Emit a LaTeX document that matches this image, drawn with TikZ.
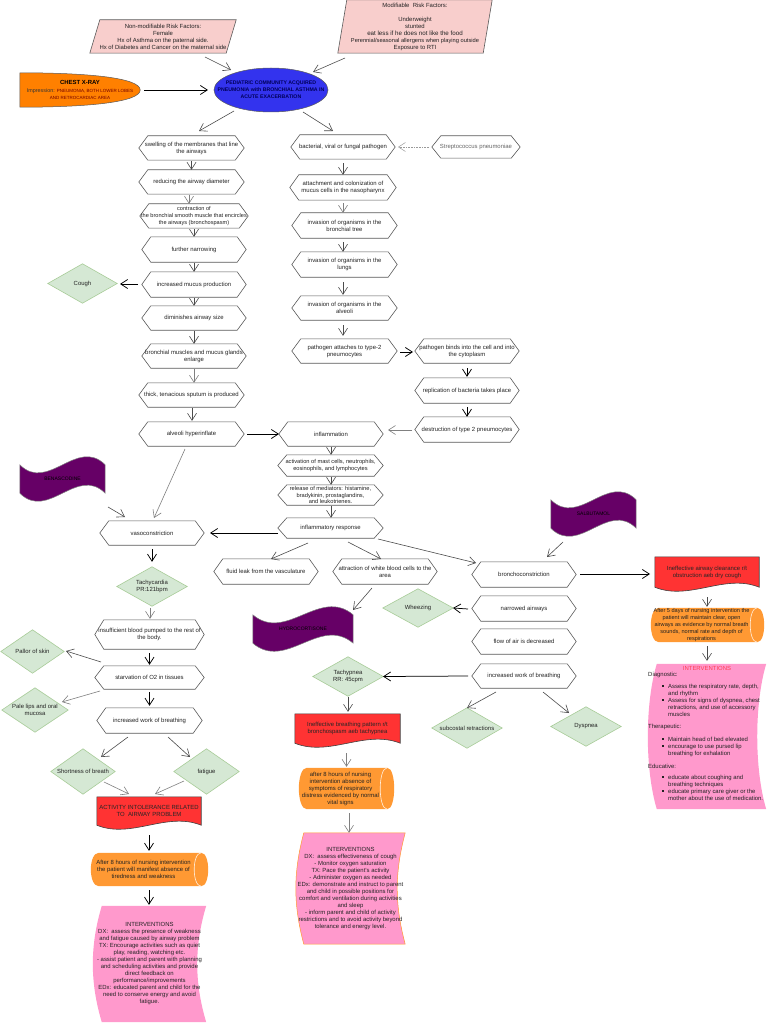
\documentclass[tikz,border=0pt]{standalone}
\usepackage{fontspec}
\setmainfont{Liberation Sans}
\usetikzlibrary{arrows.meta,backgrounds}
\definecolor{txt}{HTML}{222222}
\definecolor{edge}{HTML}{5A5A5A}
\definecolor{dmfill}{HTML}{D5E8D4}
\definecolor{dmline}{HTML}{A8CC98}
\definecolor{parafill}{HTML}{F8CECC}
\definecolor{bluefill}{HTML}{3333EE}
\definecolor{redfill}{HTML}{FF3333}
\definecolor{cylfill}{HTML}{FF9933}
\definecolor{pinkfill}{HTML}{FF99CC}
\definecolor{purplefill}{HTML}{660066}
\definecolor{xrayfill}{HTML}{FF8000}
\tikzset{
  tbox/.style={rectangle,inner sep=0pt,align=center,text=txt,font=\fontsize{5.95}{7}\selectfont},
  hexline/.style={draw=edge,line width=.6pt,fill=white},
  diamline/.style={draw=dmline,line width=.6pt,fill=dmfill},
  paraline/.style={draw=edge,line width=.6pt,fill=parafill},
  docline/.style={draw=black!75,line width=.6pt,fill=redfill},
  waveline/.style={draw=gray,line width=.5pt,fill=purplefill},
  cylbody/.style={fill=cylfill},
  cylend/.style={draw=white!85!cylfill,line width=.6pt},
  pinkline/.style={fill=pinkfill},
  arrow/.style={-{Straight Barb[length=7pt,width=9pt]},draw=black!70,line width=.6pt},
  strong/.style={draw=black,line width=.75pt},
  pale/.style={draw=black!50,line width=.6pt},
  faint/.style={densely dotted,draw=black!40,line width=.5pt}
}
\newcommand{\boxat}[7]{%
  \pgfmathsetmacro\cxx{(#3+#5)/2}\pgfmathsetmacro\cyy{(#4+#6)/2}%
  \pgfmathsetmacro\www{#5-#3}\pgfmathsetmacro\hhh{#6-#4}%
  \node[#1,minimum width=\www pt,minimum height=\hhh pt] (#2) at (\cxx,\cyy) {#7};}
\newcommand{\hexn}[7][]{\boxat{tbox,#1}{#2}{#3}{#4}{#5}{#6}{#7}%
  \begin{pgfonlayer}{background}
  \draw[hexline] (#2.west) -- ([xshift=9pt]#2.north west) -- ([xshift=-9pt]#2.north east) -- (#2.east) -- ([xshift=-9pt]#2.south east) -- ([xshift=9pt]#2.south west) -- cycle;
  \end{pgfonlayer}}
\newcommand{\diam}[6]{\boxat{tbox}{#1}{#2}{#3}{#4}{#5}{#6}%
  \begin{pgfonlayer}{background}
  \draw[diamline] (#1.west) -- (#1.north) -- (#1.east) -- (#1.south) -- cycle;
  \end{pgfonlayer}}
% name x0 y0 x1 y1 slant text
\newcommand{\para}[7]{\boxat{tbox}{#1}{#2}{#3}{#4}{#5}{#7}%
  \begin{pgfonlayer}{background}
  \draw[paraline] ([xshift=#6pt]#1.north west) -- (#1.north east) -- ([xshift=-#6pt]#1.south east) -- (#1.south west) -- cycle;
  \end{pgfonlayer}}
% purple flag: name x0 y0 x1 y1 text
\newcommand{\flagn}[6]{\boxat{tbox,text=black,font=\fontsize{5}{6}\selectfont}{#1}{#2}{#3}{#4}{#5}{#6}%
  \pgfmathsetmacro\ww{(#4-#2)/3}%
  \begin{pgfonlayer}{background}
  \draw[waveline] (#1.north west) .. controls +(\ww,28) and +(-\ww,-28) .. (#1.north east) -- (#1.south east) .. controls +(-\ww,-28) and +(\ww,28) .. (#1.south west) -- cycle;
  \end{pgfonlayer}}
% red document: name x0 y0 x1 y1 text
\newcommand{\docn}[6]{\boxat{tbox,text=black!85}{#1}{#2}{#3}{#4}{#5}{#6}%
  \pgfmathsetmacro\ww{(#4-#2)/3}%
  \begin{pgfonlayer}{background}
  \draw[docline] (#1.north west) -- (#1.north east) -- (#1.south east) .. controls +(-\ww,-14) and +(\ww,14) .. (#1.south west) -- cycle;
  \end{pgfonlayer}}
% orange cylinder: the node is the part of the body left of the end cap
\newcommand{\cyln}[7][]{\boxat{tbox,#1}{#2}{#3}{#4}{#5}{#6}{#7}%
  \begin{pgfonlayer}{background}
  \fill[cylbody] ([xshift=8pt]#2.north west) -- ([xshift=5pt]#2.north east) .. controls +(9.3,0) and +(9.3,0) .. ([xshift=5pt]#2.south east) -- ([xshift=8pt]#2.south west) .. controls +(-10.6,0) and +(-10.6,0) .. cycle;
  \draw[cylend] ([xshift=5pt]#2.north east) .. controls +(-9.3,0) and +(-9.3,0) .. ([xshift=5pt]#2.south east);
  \end{pgfonlayer}}
% pink store: style name x0 y0 x1 y1 bow text
\newcommand{\pinkn}[8]{\boxat{tbox}{#2}{#3}{#4}{#5}{#6}{#8}%
  \begin{pgfonlayer}{background}
  \path[pinkline,#1] ([xshift=#7pt]#2.north west) -- (#2.north east) .. controls +(-1.33*#7,40) and +(-1.33*#7,-40) .. (#2.south east) -- ([xshift=#7pt]#2.south west) .. controls +(-1.33*#7,-40) and +(-1.33*#7,40) .. cycle;
  \end{pgfonlayer}}
% connectors
\newcommand{\vconn}[6][]{\draw[arrow,#1,shorten <=#5pt,shorten >=#6pt] ([xshift=#4pt]#2.south) -- ([xshift=#4pt]#2.south |- #3.north);}
\newcommand{\conn}[5][]{\draw[arrow,#1] ([shift={(#3)}]#2.center) -- ([shift={(#5)}]#4.center);}
\newcommand{\bl}[1]{\hspace*{14pt}\makebox[6pt][l]{\raisebox{1.2pt}{\rule{1.4pt}{1.4pt}}}#1}
\newcommand{\cl}[1]{\hspace*{20pt}#1}
\begin{document}
\begin{tikzpicture}[x=1pt,y=-1pt]
\begin{pgfonlayer}{background}
\fill[white] (0,0) rectangle (768,1024);
\end{pgfonlayer}
\useasboundingbox (0,0) rectangle (768,1024);

% top
\para{nonmod}{90}{20}{236}{53}{10}{Non-modifiable Risk Factors:\\Female\\Hx of Asthma on the paternal side.\\Hx of Diabetes and Cancer on the maternal side}
\para{modif}{338}{0}{492}{53}{9}{Modifiable\ \ Risk Factors:\\[7pt]Underweight\\stunted\\{\fontsize{6.2}{7}\selectfont eat less if he does not like the food}\\{\fontsize{5.7}{7}\selectfont Perennial/seasonal allergens when playing outside}\\Exposure to RTI}
\boxat{tbox}{xray}{20}{73}{140}{107}{{\bfseries\color{black}CHEST X-RAY}\\[.5pt]{\fontsize{5.4}{7}\selectfont\color{black!80}Impression: {\fontsize{4.5}{7}\selectfont\color{red!45!black}PNEUMONIA, BOTH LOWER LOBES}}\\{\fontsize{4.5}{7}\selectfont\color{red!45!black}AND RETROCARDIAC AREA}}
\begin{pgfonlayer}{background}
\draw[draw=edge,line width=.5pt,fill=xrayfill] (xray.north west) .. controls +(70,0) and +(0,-12) .. (xray.east) .. controls +(0,12) and +(70,0) .. (xray.south west) -- cycle;
\end{pgfonlayer}
\boxat{tbox,font=\fontsize{5.2}{7}\selectfont\bfseries,text=blue!35!black}{main}{214}{68}{328}{112}{PEDIATRIC COMMUNITY ACQUIRED\\PNEUMONIA with BRONCHIAL ASTHMA IN\\ACUTE EXACERBATION}
\begin{pgfonlayer}{background}
\draw[draw=edge,line width=.5pt,fill=bluefill] (main.center) ellipse [x radius=57,y radius=22];
\end{pgfonlayer}

% left column
\hexn{swell}{139}{136}{244}{160}{swelling of the membranes that line\\the airways}
\hexn{reduce}{139}{170}{244}{194}{reducing the airway diameter}
\hexn[font=\fontsize{5.6}{7}\selectfont]{contr}{140}{204}{248}{228}{contraction of\\the bronchial smooth muscle that encircles\\the airways (bronchospasm)}
\hexn{further}{142}{237}{246}{262}{further narrowing}
\hexn{mucus}{142}{272}{246}{297}{increased mucus production}
\hexn{dimin}{142}{306}{246}{330}{diminishes airway size}
\hexn{bronch}{142}{344}{246}{368}{bronchial muscles and mucus glands\\enlarge}
\hexn{thick}{139}{383}{244}{407}{thick, tenacious sputum is produced}
\hexn{alveoli}{139}{422}{244}{446}{alveoli hyperinflate}
\diam{cough}{48}{264}{117}{303}{Cough}

% right column
\hexn{bact}{291}{135}{395}{159}{bacterial, viral or fungal pathogen}
\hexn{attach}{290}{175}{396}{200}{attachment and colonization of\\mucus cells in the nasopharynx}
\hexn{invbr}{292}{213}{397}{238}{invasion of organisms in the\\bronchial tree}
\hexn{invlu}{292}{252}{397}{277}{invasion of organisms in the\\lungs}
\hexn{invalv}{292}{296}{397}{320}{invasion of organisms in the\\alveoli}
\hexn{patt}{292}{339}{397}{363}{pathogen attaches to type-2\\pneumocytes}
\hexn[text=black!60]{strep}{432}{136}{520}{158}{Streptococcus pneumoniae}
\hexn{binds}{415}{339}{519}{363}{pathogen binds into the cell and into\\the cytoplasm}
\hexn{repl}{415}{378}{519}{403}{replication of bacteria takes place}
\hexn{destr}{415}{417}{519}{442}{destruction of type 2 pneumocytes}

% centre
\hexn{inflam}{279}{422}{383}{446}{inflammation}
\hexn[font=\fontsize{5.7}{6.8}\selectfont]{activ}{278}{455}{383}{476}{activation of mast cells, neutrophils,\\eosinophils, and lymphocytes}
\hexn[font=\fontsize{5.7}{6.8}\selectfont]{release}{278}{485}{383}{505}{release of mediators: histamine,\\bradykinin, prostaglandins,\\and leukotrienes.}
\hexn{resp}{278}{518}{383}{538}{inflammatory response}
\hexn{fluid}{214}{559}{318}{584}{fluid leak from the vasculature}
\hexn{attract}{333}{559}{437}{584}{attraction of white blood cells to the\\area}
\hexn{bronchoc}{472}{562}{576}{587}{bronchoconstriction}
\hexn{narrowed}{472}{596}{576}{621}{narrowed airways}
\hexn{flow}{472}{629}{576}{654}{flow of air is decreased}
\hexn{incwork}{472}{664}{576}{688}{increased work of breathing}
\diam{wheeze}{383}{589}{453}{627}{Wheezing}
\diam{tachyp}{313}{657}{383}{696}{Tachypnea\\RR: 45cpm}
\diam{subcost}{432}{708}{502}{748}{subcostal retractions}
\diam{dysp}{551}{707}{621}{746}{Dyspnea}

% lower left
\hexn{vaso}{100}{521}{204}{545}{vasoconstriction}
\diam{tachyc}{117}{567}{187}{606}{Tachycardia\\PR:121bpm}
\hexn{insuff}{95}{620}{204}{649}{insufficient blood pumped to the rest of\\the body.}
\hexn{starv}{95}{666}{204}{689}{starvation of O2 in tissues}
\hexn{incw}{97}{708}{202}{733}{increased work of breathing}
\diam{pallor}{1}{630}{64}{673}{Pallor of skin}
\diam{palelip}{2}{688}{68}{732}{Pale lips and oral\\mucosa}
\diam{short}{51}{749}{115}{794}{Shortness of breath}
\diam{fatig}{174}{749}{239}{794}{fatigue}

% flags
\flagn{benas}{20}{465}{105}{493}{BENASCODINE}
\flagn{hydro}{253}{615}{353}{643}{HYDROCORTISONE}
\flagn{salb}{551}{500}{636}{528}{SALBUTAMOL}

% nursing care plan: activity
\docn{actred}{97}{797}{201}{825}{ACTIVITY INTOLERANCE RELATED\\TO\ \ AIRWAY PROBLEM}
\cyln{actcyl}{91}{853}{196}{886}{After 8 hours of nursing intervention\\the patient will manifest absence of\\tiredness and weakness}
\pinkn{}{actpink}{93}{906}{206}{1022}{9}{INTERVENTIONS\\DX:\ \ assess the presence of weakness\\and fatigue caused by airway problem\\TX: Encourage activities such as quiet\\play, reading, watching etc.\\- assist patient and parent with planning\\and scheduling activities and provide\\direct feedback on\\performance/improvements\\EDx: educated parent and child for the\\need to conserve energy and avoid\\fatigue.}

% nursing care plan: breathing
\docn{brred}{295}{714}{400}{743}{Ineffective breathing pattern r/t\\bronchospasm aeb tachypnea}
\cyln{brcyl}{299}{768}{382}{809}{after 8 hours of nursing\\intervention absence of\\symptoms of respiratory\\distress evidenced by normal\\vital signs}
\pinkn{draw=cylfill,line width=.5pt}{brpink}{296}{833}{405}{944}{8}{INTERVENTIONS\\DX:\ \ assess effectiveness of cough\\- Monitor oxygen saturation\\TX: Pace the patient's activity\\- Administer oxygen as needed\\EDx: demonstrate and instruct to parent\\and child in possible positions for\\comfort and ventilation during activities\\and sleep\\- inform parent and child of activity\\restrictions and to avoid activity beyond\\tolerance and energy level.}

% nursing care plan: airway
\docn{awred}{655}{557}{759}{587}{Ineffective airway clearance r/t\\obstruction aeb dry cough}
\cyln[font=\fontsize{5.6}{7}\selectfont]{awcyl}{651}{608}{752}{642}{After 5 days of nursing intervention the\\patient will maintain clear, open\\airways as evidence by normal breath\\sounds, normal rate and depth of\\respirations}
\pinkn{}{awpink}{648}{664}{766}{809}{9}{}
\node[tbox,text=red!60!pinkfill] (awhead) at (707,668) {INTERVENTIONS};
\node[tbox,anchor=north west,align=left] (awtext) at (648,671.5) {Diagnostic:\\[5pt]
\bl{Assess the respiratory rate, depth,}\\
\cl{and rhythm}\\
\bl{Assess for signs of dyspnea, chest}\\
\cl{retractions, and use of accessory}\\
\cl{muscles}\\[5pt]
Therapeutic:\\[6pt]
\bl{Maintain head of bed elevated}\\
\bl{encourage to use pursed lip}\\
\cl{breathing for exhalation}\\[6pt]
Educative:\\[4pt]
\bl{educate about coughing and}\\
\cl{breathing techniques}\\
\bl{educate primary care giver or the}\\
\cl{mother about the use of medication.}};

% connectors: top
\conn{nonmod}{42,20.5}{main}{-40,-20}
\conn{modif}{-70,31.5}{main}{42,-18}
\conn[strong]{xray}{64,0}{main}{-63,0}
\conn{main}{-37,21}{swell}{7.5,-17}
\conn{main}{32,22}{bact}{-10,-16}
\conn[faint]{strep}{-47,0}{bact}{55,0}
% left column
\vconn{swell}{reduce}{0}{1}{0}
\vconn[pale]{reduce}{contr}{-2.5}{1}{0}
\vconn{contr}{further}{0}{1}{0}
\vconn{further}{mucus}{0}{1}{0}
\vconn{mucus}{dimin}{0}{1}{0}
\vconn{dimin}{bronch}{0}{1}{0}
\vconn[pale]{bronch}{thick}{0}{1}{0}
\vconn{thick}{alveoli}{.5}{1}{1}
\conn[strong]{mucus}{-56,-.5}{cough}{37.5,.5}
\conn[strong]{alveoli}{55.5,0}{inflam}{-52,0}
\conn[pale]{alveoli}{-6.5,15}{vaso}{2,-15}
% right column
\vconn{bact}{attach}{0}{4}{0}
\vconn[pale]{attach}{invbr}{0}{3}{0}
\vconn{invbr}{invlu}{-1.5}{4}{0}
\vconn{invlu}{invalv}{-1.5}{5}{1}
\vconn{invalv}{patt}{-1.5}{5}{3}
\conn[strong]{patt}{55.5,1}{binds}{-54,1}
\vconn[strong]{binds}{repl}{0}{5}{1}
\vconn[strong]{repl}{destr}{0}{4}{0}
\conn[pale]{destr}{-55,.5}{inflam}{57,-4}
% centre
\vconn{inflam}{activ}{0}{1}{0}
\vconn{activ}{release}{.5}{1}{0}
\vconn{release}{resp}{.5}{1}{0}
\conn[strong]{resp}{-52.5,5}{vaso}{58,0}
\conn{resp}{-22.5,15}{fluid}{5,-12.5}
\conn{resp}{17.5,14}{attract}{-4,-12.5}
\conn{resp}{47.5,11}{bronchoc}{-48,-11.5}
\conn{attract}{-13,16.5}{hydro}{50,-19}
\conn{salb}{-30.5,28}{bronchoc}{23,-17.5}
\conn[strong]{bronchoc}{56,-.5}{awred}{-57,2}
\conn[strong]{narrowed}{-56,.5}{wheeze}{35,0}
\conn[strong]{incwork}{-56,0}{tachyp}{35,0}
\conn{incwork}{-28,16}{subcost}{0,-20}
\conn{incwork}{19,16}{dysp}{-17,-13.5}
% lower left
\conn{benas}{45.5,28}{vaso}{-27,-16}
\vconn[strong]{vaso}{tachyc}{0}{4}{5}
\vconn[pale]{tachyc}{insuff}{-2}{2}{1}
\vconn[strong]{insuff}{starv}{0}{4}{1}
\vconn[strong]{starv}{incw}{0}{3}{2}
\conn{starv}{-48.5,-15.5}{pallor}{33.5,-.5}
\conn[pale]{starv}{-49.5,13.5}{palelip}{27,-8}
\conn{incw}{-21.5,16.5}{short}{18,-14.5}
\conn{incw}{18.5,16.5}{fatig}{-16.5,-14.5}
\conn[pale]{short}{21,10.5}{actred}{-20,-17}
\conn[pale]{fatig}{-22.5,9.5}{actred}{6,-17}
% care plans
\vconn[strong]{actred}{actcyl}{0}{10}{2}
\vconn[strong]{actcyl}{actpink}{5.5}{4}{1}
\vconn{tachyp}{brred}{0}{1}{2}
\vconn[pale]{brred}{brcyl}{-1}{10}{1}
\vconn[pale]{brcyl}{brpink}{8.5}{4}{0}
\vconn{awred}{awcyl}{0}{10}{1}
\vconn{awcyl}{awpink}{5.5}{4}{3}
\end{tikzpicture}
\end{document}
